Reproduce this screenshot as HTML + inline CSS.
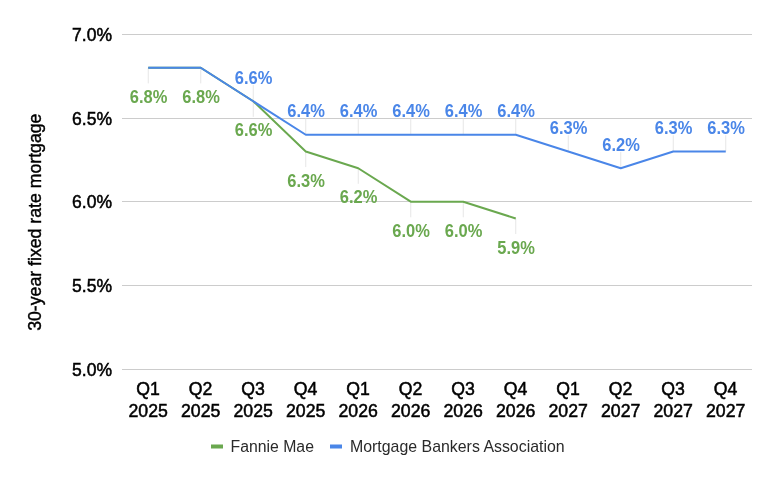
<!DOCTYPE html>
<html><head><meta charset="utf-8"><style>
html,body{margin:0;padding:0;background:#fff;}
svg{display:block;will-change:transform;}
text{font-family:"Liberation Sans",sans-serif;}
.yl{font-size:17.5px;fill:#000;stroke:#000;stroke-width:0.5px;}
.xl{font-size:17.7px;fill:#000;stroke:#000;stroke-width:0.5px;}
.at{font-size:17.7px;fill:#000;stroke:#000;stroke-width:0.4px;}
.lg{font-size:15.8px;fill:#2a2a2a;}
.lg2{font-size:15.9px;}
.dl{font-size:16.5px;font-weight:bold;}
</style></head><body>
<svg width="776" height="480" viewBox="0 0 776 480">
<rect width="776" height="480" fill="#fff"/>
<line x1="122" x2="752" y1="34.5" y2="34.5" stroke="#cccccc" stroke-width="1"/>
<text x="112" y="41.10" class="yl" text-anchor="end">7.0%</text>
<line x1="122" x2="752" y1="118.5" y2="118.5" stroke="#cccccc" stroke-width="1"/>
<text x="112" y="125.10" class="yl" text-anchor="end">6.5%</text>
<line x1="122" x2="752" y1="201.5" y2="201.5" stroke="#cccccc" stroke-width="1"/>
<text x="112" y="208.10" class="yl" text-anchor="end">6.0%</text>
<line x1="122" x2="752" y1="285.5" y2="285.5" stroke="#cccccc" stroke-width="1"/>
<text x="112" y="292.10" class="yl" text-anchor="end">5.5%</text>
<line x1="122" x2="752" y1="369.5" y2="369.5" stroke="#cccccc" stroke-width="1"/>
<text x="112" y="376.10" class="yl" text-anchor="end">5.0%</text>
<line x1="148.25" x2="148.25" y1="67.78" y2="83.38" stroke="#e6e6e6" stroke-width="1"/>
<line x1="200.75" x2="200.75" y1="67.78" y2="83.38" stroke="#e6e6e6" stroke-width="1"/>
<line x1="253.25" x2="253.25" y1="101.26" y2="116.86" stroke="#e6e6e6" stroke-width="1"/>
<line x1="305.75" x2="305.75" y1="151.48" y2="167.08" stroke="#e6e6e6" stroke-width="1"/>
<line x1="358.25" x2="358.25" y1="168.22" y2="183.82" stroke="#e6e6e6" stroke-width="1"/>
<line x1="410.75" x2="410.75" y1="201.70" y2="217.30" stroke="#e6e6e6" stroke-width="1"/>
<line x1="463.25" x2="463.25" y1="201.70" y2="217.30" stroke="#e6e6e6" stroke-width="1"/>
<line x1="515.75" x2="515.75" y1="218.44" y2="234.04" stroke="#e6e6e6" stroke-width="1"/>
<line x1="253.25" x2="253.25" y1="85.06" y2="101.26" stroke="#e6e6e6" stroke-width="1"/>
<line x1="305.75" x2="305.75" y1="118.54" y2="134.74" stroke="#e6e6e6" stroke-width="1"/>
<line x1="358.25" x2="358.25" y1="118.54" y2="134.74" stroke="#e6e6e6" stroke-width="1"/>
<line x1="410.75" x2="410.75" y1="118.54" y2="134.74" stroke="#e6e6e6" stroke-width="1"/>
<line x1="463.25" x2="463.25" y1="118.54" y2="134.74" stroke="#e6e6e6" stroke-width="1"/>
<line x1="515.75" x2="515.75" y1="118.54" y2="134.74" stroke="#e6e6e6" stroke-width="1"/>
<line x1="568.25" x2="568.25" y1="135.28" y2="151.48" stroke="#e6e6e6" stroke-width="1"/>
<line x1="620.75" x2="620.75" y1="152.02" y2="168.22" stroke="#e6e6e6" stroke-width="1"/>
<line x1="673.25" x2="673.25" y1="135.28" y2="151.48" stroke="#e6e6e6" stroke-width="1"/>
<line x1="725.75" x2="725.75" y1="135.28" y2="151.48" stroke="#e6e6e6" stroke-width="1"/>
<polyline points="148.25,67.78 200.75,67.78 253.25,101.26 305.75,151.48 358.25,168.22 410.75,201.70 463.25,201.70 515.75,218.44" fill="none" stroke="#6aa84f" stroke-width="2" stroke-linejoin="round"/>
<polyline points="148.25,67.78 200.75,67.78 253.25,101.26 305.75,134.74 358.25,134.74 410.75,134.74 463.25,134.74 515.75,134.74 568.25,151.48 620.75,168.22 673.25,151.48 725.75,151.48" fill="none" stroke="#4a86e8" stroke-width="2" stroke-linejoin="round"/>
<text transform="translate(148.65,102.88) scale(1,1.07)" class="dl" fill="#6aa84f" text-anchor="middle">6.8%</text>
<text transform="translate(201.15,102.88) scale(1,1.07)" class="dl" fill="#6aa84f" text-anchor="middle">6.8%</text>
<text transform="translate(253.65,136.36) scale(1,1.07)" class="dl" fill="#6aa84f" text-anchor="middle">6.6%</text>
<text transform="translate(306.15,186.58) scale(1,1.07)" class="dl" fill="#6aa84f" text-anchor="middle">6.3%</text>
<text transform="translate(358.65,203.32) scale(1,1.07)" class="dl" fill="#6aa84f" text-anchor="middle">6.2%</text>
<text transform="translate(411.15,236.80) scale(1,1.07)" class="dl" fill="#6aa84f" text-anchor="middle">6.0%</text>
<text transform="translate(463.65,236.80) scale(1,1.07)" class="dl" fill="#6aa84f" text-anchor="middle">6.0%</text>
<text transform="translate(516.15,253.54) scale(1,1.07)" class="dl" fill="#6aa84f" text-anchor="middle">5.9%</text>
<text transform="translate(253.65,83.66) scale(1,1.07)" class="dl" fill="#4a86e8" text-anchor="middle">6.6%</text>
<text transform="translate(306.15,117.14) scale(1,1.07)" class="dl" fill="#4a86e8" text-anchor="middle">6.4%</text>
<text transform="translate(358.65,117.14) scale(1,1.07)" class="dl" fill="#4a86e8" text-anchor="middle">6.4%</text>
<text transform="translate(411.15,117.14) scale(1,1.07)" class="dl" fill="#4a86e8" text-anchor="middle">6.4%</text>
<text transform="translate(463.65,117.14) scale(1,1.07)" class="dl" fill="#4a86e8" text-anchor="middle">6.4%</text>
<text transform="translate(516.15,117.14) scale(1,1.07)" class="dl" fill="#4a86e8" text-anchor="middle">6.4%</text>
<text transform="translate(568.65,133.88) scale(1,1.07)" class="dl" fill="#4a86e8" text-anchor="middle">6.3%</text>
<text transform="translate(621.15,150.62) scale(1,1.07)" class="dl" fill="#4a86e8" text-anchor="middle">6.2%</text>
<text transform="translate(673.65,133.88) scale(1,1.07)" class="dl" fill="#4a86e8" text-anchor="middle">6.3%</text>
<text transform="translate(726.15,133.88) scale(1,1.07)" class="dl" fill="#4a86e8" text-anchor="middle">6.3%</text>
<text x="148.15" y="395" class="xl" text-anchor="middle">Q1</text>
<text x="148.15" y="416.7" class="xl" text-anchor="middle">2025</text>
<text x="200.65" y="395" class="xl" text-anchor="middle">Q2</text>
<text x="200.65" y="416.7" class="xl" text-anchor="middle">2025</text>
<text x="253.15" y="395" class="xl" text-anchor="middle">Q3</text>
<text x="253.15" y="416.7" class="xl" text-anchor="middle">2025</text>
<text x="305.65" y="395" class="xl" text-anchor="middle">Q4</text>
<text x="305.65" y="416.7" class="xl" text-anchor="middle">2025</text>
<text x="358.15" y="395" class="xl" text-anchor="middle">Q1</text>
<text x="358.15" y="416.7" class="xl" text-anchor="middle">2026</text>
<text x="410.65" y="395" class="xl" text-anchor="middle">Q2</text>
<text x="410.65" y="416.7" class="xl" text-anchor="middle">2026</text>
<text x="463.15" y="395" class="xl" text-anchor="middle">Q3</text>
<text x="463.15" y="416.7" class="xl" text-anchor="middle">2026</text>
<text x="515.65" y="395" class="xl" text-anchor="middle">Q4</text>
<text x="515.65" y="416.7" class="xl" text-anchor="middle">2026</text>
<text x="568.15" y="395" class="xl" text-anchor="middle">Q1</text>
<text x="568.15" y="416.7" class="xl" text-anchor="middle">2027</text>
<text x="620.65" y="395" class="xl" text-anchor="middle">Q2</text>
<text x="620.65" y="416.7" class="xl" text-anchor="middle">2027</text>
<text x="673.15" y="395" class="xl" text-anchor="middle">Q3</text>
<text x="673.15" y="416.7" class="xl" text-anchor="middle">2027</text>
<text x="725.65" y="395" class="xl" text-anchor="middle">Q4</text>
<text x="725.65" y="416.7" class="xl" text-anchor="middle">2027</text>
<text transform="translate(41,222.2) rotate(-90)" class="at" text-anchor="middle">30-year fixed rate mortgage</text>
<rect x="211" y="444.5" width="12" height="4" fill="#6aa84f"/>
<text x="230.5" y="451.5" class="lg">Fannie Mae</text>
<rect x="330" y="444.5" width="12" height="4" fill="#4a86e8"/>
<text x="350" y="451.5" class="lg lg2">Mortgage Bankers Association</text>
</svg>
</body></html>
